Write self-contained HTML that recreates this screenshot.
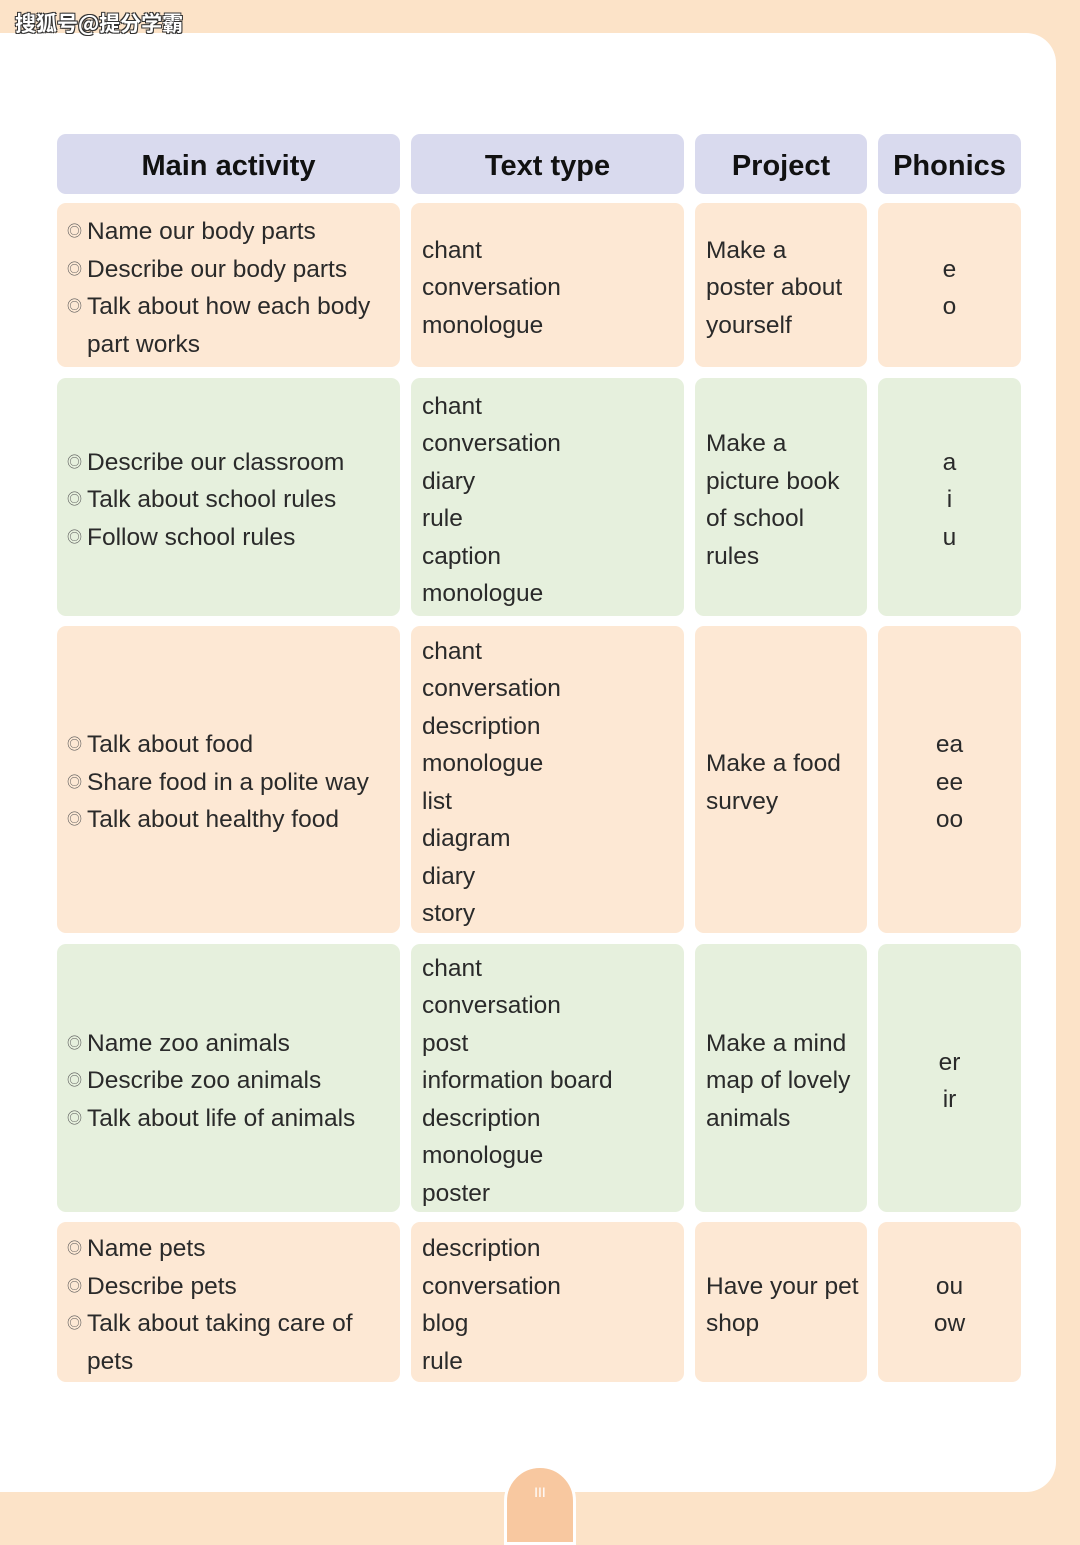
<!DOCTYPE html>
<html><head><meta charset="utf-8"><style>
body{margin:0;width:1080px;height:1526px;background:#fce3c8;position:relative;overflow:hidden;font-family:"Liberation Sans","Noto Sans CJK SC",sans-serif;}
.panel{position:absolute;left:0;top:33px;width:1056px;height:1459px;background:#fff;border-radius:0 30px 30px 0;}
.wm{position:absolute;left:15px;top:8px;font-size:21px;font-weight:bold;color:#fff;text-shadow:1px 1px 0 #333,-1px -1px 0 #333,1px -1px 0 #333,-1px 1px 0 #333;font-family:"Noto Sans CJK SC",sans-serif;}
.c{position:absolute;border-radius:9px;display:flex;flex-direction:column;justify-content:center;font-size:24.5px;line-height:37.5px;color:#2a2a2a;box-sizing:border-box;padding-top:6px;}
.h{background:#d9daee;font-weight:bold;font-size:29px;color:#111;align-items:center;}
.p{background:#fde8d4}.g{background:#e6f0dd}
.a{padding-left:30px}.a div{position:relative}.a div.b::before{content:"◎";position:absolute;left:-20px;font-size:15px;color:#555}
.t{padding-left:11px}.ph{align-items:center}
.tab{position:absolute;left:504px;top:1465px;width:72px;height:80px;background:#f8c8a0;border:3px solid #fff;border-radius:36px 36px 0 0;box-sizing:border-box;color:#fff;text-align:center;font-size:14px;padding-top:16px}
</style></head><body>
<div class="panel"></div>
<div class="wm">搜狐号@提分学霸</div>

<div class="c h" style="left:57px;top:134px;width:343px;height:60px">Main activity</div>
<div class="c h" style="left:411px;top:134px;width:273px;height:60px">Text type</div>
<div class="c h" style="left:695px;top:134px;width:172px;height:60px">Project</div>
<div class="c h" style="left:878px;top:134px;width:143px;height:60px">Phonics</div>

<div class="c p a" style="left:57px;top:203px;width:343px;height:164px"><div class="b">Name our body parts</div><div class="b">Describe our body parts</div><div class="b">Talk about how each body</div><div>part works</div></div>
<div class="c p t" style="left:411px;top:203px;width:273px;height:164px"><div>chant</div><div>conversation</div><div>monologue</div></div>
<div class="c p t" style="left:695px;top:203px;width:172px;height:164px"><div>Make a</div><div>poster about</div><div>yourself</div></div>
<div class="c p ph" style="left:878px;top:203px;width:143px;height:164px"><div>e</div><div>o</div></div>

<div class="c g a" style="left:57px;top:378px;width:343px;height:238px"><div class="b">Describe our classroom</div><div class="b">Talk about school rules</div><div class="b">Follow school rules</div></div>
<div class="c g t" style="left:411px;top:378px;width:273px;height:238px"><div>chant</div><div>conversation</div><div>diary</div><div>rule</div><div>caption</div><div>monologue</div></div>
<div class="c g t" style="left:695px;top:378px;width:172px;height:238px"><div>Make a</div><div>picture book</div><div>of school</div><div>rules</div></div>
<div class="c g ph" style="left:878px;top:378px;width:143px;height:238px"><div>a</div><div>i</div><div>u</div></div>

<div class="c p a" style="left:57px;top:626px;width:343px;height:307px"><div class="b">Talk about food</div><div class="b">Share food in a polite way</div><div class="b">Talk about healthy food</div></div>
<div class="c p t" style="left:411px;top:626px;width:273px;height:307px"><div>chant</div><div>conversation</div><div>description</div><div>monologue</div><div>list</div><div>diagram</div><div>diary</div><div>story</div></div>
<div class="c p t" style="left:695px;top:626px;width:172px;height:307px"><div>Make a food</div><div>survey</div></div>
<div class="c p ph" style="left:878px;top:626px;width:143px;height:307px"><div>ea</div><div>ee</div><div>oo</div></div>

<div class="c g a" style="left:57px;top:944px;width:343px;height:268px"><div class="b">Name zoo animals</div><div class="b">Describe zoo animals</div><div class="b">Talk about life of animals</div></div>
<div class="c g t" style="left:411px;top:944px;width:273px;height:268px"><div>chant</div><div>conversation</div><div>post</div><div>information board</div><div>description</div><div>monologue</div><div>poster</div></div>
<div class="c g t" style="left:695px;top:944px;width:172px;height:268px"><div>Make a mind</div><div>map of lovely</div><div>animals</div></div>
<div class="c g ph" style="left:878px;top:944px;width:143px;height:268px"><div>er</div><div>ir</div></div>

<div class="c p a" style="left:57px;top:1222px;width:343px;height:160px"><div class="b">Name pets</div><div class="b">Describe pets</div><div class="b">Talk about taking care of</div><div>pets</div></div>
<div class="c p t" style="left:411px;top:1222px;width:273px;height:160px"><div>description</div><div>conversation</div><div>blog</div><div>rule</div></div>
<div class="c p t" style="left:695px;top:1222px;width:172px;height:160px"><div>Have your pet</div><div>shop</div></div>
<div class="c p ph" style="left:878px;top:1222px;width:143px;height:160px"><div>ou</div><div>ow</div></div>

<div class="tab">III</div>
</body></html>
